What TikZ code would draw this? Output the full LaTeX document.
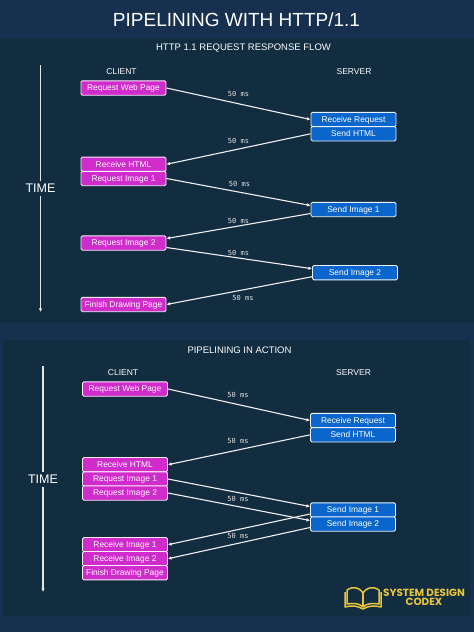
\documentclass[tikz,border=0pt]{standalone}
\usepackage{fontspec}
\setmainfont{Liberation Sans}
\newfontfamily\labelfont{DejaVu Sans Mono}
\newfontfamily\logofont{Poppins}
\usepackage{xcolor}
\usetikzlibrary{arrows.meta,positioning}
\definecolor{bandblue}{HTML}{17304F}
\definecolor{panelblue}{HTML}{122C40}
\definecolor{clientpink}{HTML}{D02BCB}
\definecolor{serverblue}{HTML}{0A66CC}
\definecolor{logoyellow}{HTML}{E8C53A}

\begin{document}
\begin{tikzpicture}[
  x=1pt, y=-1pt,
  font=\fontsize{8.4pt}{9pt}\selectfont,
  client/.style={draw=white!92!clientpink, fill=clientpink, text=white, rounded corners=1.5pt,
    line width=0.9pt, minimum width=85pt, minimum height=14.4pt, inner sep=0pt,
    text height=7pt, text depth=1.2pt},
  server/.style={client, fill=serverblue, draw=white!92!serverblue},
  flow/.style={-{Latex[length=3.6pt,width=3.6pt]}, line width=1.1pt, draw=white!95!black},
  timeline/.style={flow, draw=white!90!black},
  heading/.style={text=white, font=\fontsize{8.5pt}{9pt}\selectfont},
  edge label/.style={text=white!90!black, font=\labelfont\fontsize{7pt}{8pt}\selectfont, inner sep=0pt},
  time label/.style={text=white, font=\fontsize{12.5pt}{13pt}\selectfont, inner sep=3pt}
]
\useasboundingbox (0,0) rectangle (474,632);
\fill[bandblue] (0,0) rectangle (474,632);
\fill[panelblue] (0,38) rectangle (474,323);
\fill[panelblue] (3,340) rectangle (470,616);

\node[text=white, font=\fontsize{19pt}{21pt}\selectfont] (title) at (236.5,20) {PIPELINING WITH HTTP/1.1};

% request response flow
\node[heading, font=\fontsize{9.5pt}{10pt}\selectfont] (flowtitle) at (243.5,48.5) {HTTP 1.1 REQUEST RESPONSE FLOW};
\node[heading] (clienta) at (121.5,71.5) {CLIENT};
\node[heading] (servera) at (354,71.5) {SERVER};

\coordinate (timea) at (40.5,65);
\coordinate (timeaend) at (40.5,312);
\node[time label] (timelabela) at (40.5,188.5) {TIME};
\draw[timeline, -] (timea) -- (timelabela);
\draw[timeline] (timelabela) -- (timeaend);

\node[client] (webpagea) at (123.5,88) {Request Web Page};
\node[client] (htmla) at (123.5,164.3) {Receive HTML};
\node[client] (image1a) at (123.5,178.5) {Request Image 1};
\node[client] (image2a) at (123.5,243) {Request Image 2};
\node[client] (finisha) at (123.5,304.5) {Finish Drawing Page};
\node[server] (receivea) at (353.5,119.5) {Receive Request};
\node[server] (sendhtmla) at (353.5,133.8) {Send HTML};
\node[server] (sendonea) at (353.5,209.5) {Send Image 1};
\node[server] (sendtwoa) at (355,272.7) {Send Image 2};

\draw[flow] (webpagea.east) -- (receivea.west);
\draw[flow] (sendhtmla.west) -- (htmla.east);
\draw[flow] (image1a.east) -- ([yshift=4pt]sendonea.west);
\draw[flow] ([yshift=-4pt]sendonea.west) -- ([yshift=4.5pt]image2a.east);
\draw[flow] ([yshift=-4.5pt]image2a.east) -- ([yshift=4pt]sendtwoa.west);
\draw[flow] ([yshift=-4pt]sendtwoa.west) -- (finisha.east);

\node[edge label] (la) at (238.5,94) {50 ms};
\node[edge label] (lb) at (238.5,140.5) {50 ms};
\node[edge label] (lc) at (239.5,184) {50 ms};
\node[edge label] (ld) at (238.5,220.5) {50 ms};
\node[edge label] (le) at (238.5,252.5) {50 ms};
\node[edge label] (lf) at (243,297.5) {50 ms};

% pipelining
\node[heading, font=\fontsize{9.5pt}{10pt}\selectfont] (pipetitle) at (239.5,350) {PIPELINING IN ACTION};
\node[heading] (clientb) at (123,372.5) {CLIENT};
\node[heading] (serverb) at (353.5,372.5) {SERVER};

\coordinate (timeb) at (43,366);
\coordinate (timebend) at (43,592);
\node[time label] (timelabelb) at (43,479.5) {TIME};
\draw[timeline, -] (timeb) -- (timelabelb);
\draw[timeline] (timelabelb) -- (timebend);

\node[client] (webpageb) at (125,389) {Request Web Page};
\node[client] (htmlb) at (125,464.7) {Receive HTML};
\node[client] (image1b) at (125,479) {Request Image 1};
\node[client] (image2b) at (125,493) {Request Image 2};
\node[client] (recvoneb) at (125,544.7) {Receive Image 1};
\node[client] (recvtwob) at (125,558.7) {Receive Image 2};
\node[client] (finishb) at (125,572.7) {Finish Drawing Page};
\node[server] (receiveb) at (353,420.5) {Receive Request};
\node[server] (sendhtmlb) at (353,434.8) {Send HTML};
\node[server] (sendoneb) at (353,510) {Send Image 1};
\node[server] (sendtwob) at (353,524) {Send Image 2};

\draw[flow] (webpageb.east) -- (receiveb.west);
\draw[flow] (sendhtmlb.west) -- (htmlb.east);
\draw[flow] (image1b.east) -- ([yshift=3.5pt]sendoneb.west);
\draw[flow] (image2b.east) -- ([yshift=3.5pt]sendtwob.west);
\draw[flow] ([yshift=-4pt]sendoneb.west) -- (recvoneb.east);
\draw[flow] ([yshift=-3.5pt]sendtwob.west) -- (recvtwob.east);

\node[edge label] (lg) at (238,395) {50 ms};
\node[edge label] (lh) at (238,441) {50 ms};
\node[edge label] (li) at (238,499) {50 ms};
\node[edge label] (lj) at (238,535.5) {50 ms};

% logo
\begin{scope}[draw=logoyellow, line width=1.5pt, line join=round]
  \draw (347,590) .. controls (353,586) and (359,587) .. (363,593) .. controls (367,587) and (373,586) .. (379,590)
    -- (379,604) .. controls (373,603) and (367,603) .. (363,607) .. controls (359,603) and (353,603) .. (347,604) -- cycle;
  \draw (363,593) -- (363,607);
  \draw (345,592) -- (345,607) .. controls (352,605) and (358,606) .. (363,609) .. controls (368,606) and (374,605) .. (381,607) -- (381,592);
\end{scope}
\node[text=logoyellow, align=center, inner sep=0pt, font=\logofont\bfseries\fontsize{10.4pt}{9.2pt}\selectfont] (logotext) at (424,597.5) {SYSTEM DESIGN\\CODEX};
\end{tikzpicture}
\end{document}
